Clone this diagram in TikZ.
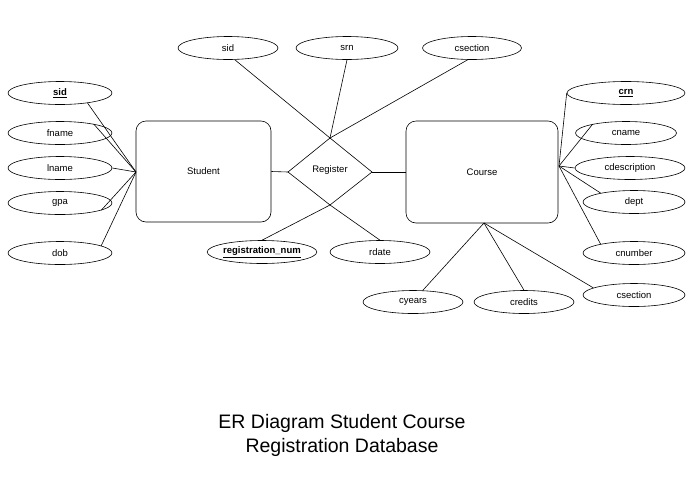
\documentclass[tikz,border=0pt]{standalone}
\usepackage{fontspec}
\setmainfont{Liberation Sans}
\usetikzlibrary{shapes.geometric}
\begin{document}
\begin{tikzpicture}[x=1pt,y=-1pt,
  attr/.style={draw,ellipse,minimum height=23pt,inner sep=0pt,font=\fontsize{9.5}{11}\selectfont},
  ent/.style={draw,rounded corners=10pt,font=\fontsize{9.5}{11}\selectfont},
  every path/.style={line width=0.6pt}]
\useasboundingbox (0,0) rectangle (700,493);
\node[ent,minimum width=135pt,minimum height=101pt] (student) at (203.5,171.5) {Student};
\node[ent,minimum width=152pt,minimum height=102pt] (course) at (482,172) {Course};
\coordinate (rl) at (288,172); \coordinate (rr) at (372,172);
\coordinate (rt) at (330,138); \coordinate (rb) at (330,205);
\draw (rl) -- (rt) -- (rr) -- (rb) -- cycle;
\node[font=\fontsize{9.5}{11}\selectfont] (reg) at (330,170) {Register};
\node[attr,minimum width=100pt] (sidt) at (228,48) {sid};
\node[attr,minimum width=102pt] (srn) at (347,48) {srn};
\node[attr,minimum width=99pt] (csec) at (472,48) {csection};
\node[attr,minimum width=104pt] (sid) at (60,93) {\textbf{\underline{sid}}};
\node[attr,minimum width=104pt] (fname) at (60,133) {fname};
\node[attr,minimum width=104pt] (lname) at (60,168) {lname};
\node[attr,minimum width=104pt] (gpa) at (60,203) {gpa};
\node[attr,minimum width=104pt] (dob) at (60,253) {dob};
\node[attr,minimum width=118pt] (crn) at (626,93) {\textbf{\underline{crn}}};
\node[attr,minimum width=101pt] (cname) at (626,133) {cname};
\node[attr,minimum width=110pt] (cdesc) at (630,168) {cdescription};
\node[attr,minimum width=102pt] (dept) at (634,202) {dept};
\node[attr,minimum width=102pt] (cnum) at (634,253) {cnumber};
\node[attr,minimum width=102pt] (csec2) at (634,295) {csection};
\node[attr,minimum width=102pt] (regnum) at (262,252) {\textbf{\underline{registration\_num}}};
\node[attr,minimum width=100pt] (rdate) at (380,252) {rdate};
\node[attr,minimum width=100pt] (cyears) at (413,302) {cyears};
\node[attr,minimum width=100pt] (credits) at (524,302) {credits};
\coordinate (sw) at (136,172);
\foreach \n/\a in {sid/-20,fname/15,lname/0,gpa/-10,dob/10}
  \draw (\n.\a) -- (sw);
\coordinate (ce) at (559,166);
\foreach \n/\a in {crn/180,cname/165,cdesc/180,dept/165,cnum/165}
  \draw (\n.\a) -- (ce);
\coordinate (cb) at (484,223);
\draw (cb) -- (cyears.50);
\draw (cb) -- (credits.north);
\draw (cb) -- (csec2.170);
\draw (student.east) -- (rl);
\draw (rr) -- (course.west);
\draw (sidt.-60) -- (rt);
\draw (srn.south) -- (rt);
\draw (csec.-110) -- (rt);
\draw (regnum.north) -- (rb);
\draw (rdate.north) -- (rb);
\node[align=center,font=\fontsize{19.5}{24}\selectfont] (title) at (342,435) {ER Diagram Student Course\\Registration Database};
\end{tikzpicture}
\end{document}
